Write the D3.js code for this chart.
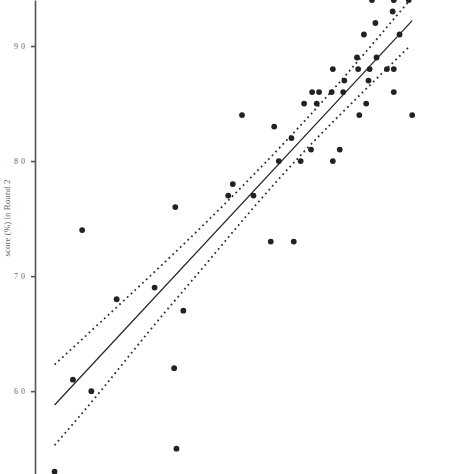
<!DOCTYPE html>
<head>
<meta charset="utf-8">
<script src="https://d3js.org/d3.v7.min.js"></script>
<style>
  body { margin: 0; background: #fff; }
  .yAxis text { font-family: "Liberation Serif", serif; font-size: 8px; fill: #666; letter-spacing: 3px; }
  .yAxis line, .yAxis path { stroke: #555; }
</style>
</head>
<body>
<div id="my_dataviz"></div>
<script>

// score in round 1 (x) and round 2 (y)
var round1 = [51.7, 53.3, 54.1, 54.9, 57.1, 60.4, 62.1, 62.2, 62.3, 62.9,
              66.8, 67.2, 68.0, 69.0, 70.5, 70.8, 71.2, 72.3, 72.5, 73.1,
              73.4, 74.0, 74.1, 74.5, 74.7, 75.8, 75.9, 75.9, 76.5, 76.8,
              76.9, 78.0, 78.1, 78.2, 78.6, 78.8, 79.0, 79.1, 79.3, 79.6,
              79.7, 80.6, 81.1, 81.2, 81.2, 81.2, 81.7, 82.5, 82.8]
var round2 = [53, 61, 74, 60, 68, 69, 62, 76, 55, 67,
              77, 78, 84, 77, 73, 83, 80, 82, 73, 80,
              85, 81, 86, 85, 86, 86, 88, 80, 81, 86,
              87, 89, 88, 84, 91, 85, 87, 88, 94, 92,
              89, 88, 93, 94, 88, 86, 91, 94, 84]

// fitted line and confidence band
var fitX = [51.7, 82.8]
var fitY = [58.8, 92.2]
var bandX = [51.7, 55.7, 60.0, 64.4, 68.7, 73.0, 77.4, 82.6]
var bandUpper = [62.3, 66.0, 70.0, 74.2, 78.5, 83.0, 87.9, 94.0]
var bandLower = [55.3, 60.0, 65.3, 70.5, 75.6, 80.4, 84.9, 90.0]

var yTicks = [60, 70, 80, 90]
var yTitle = "score (%) in Round 2"

var width = 474, height = 474

var svg = d3.select("#my_dataviz")
  .append("svg")
    .attr("width", width)
    .attr("height", height)

var x = d3.scaleLinear()
  .domain([50, 90])
  .range([35, 495])

var y = d3.scaleLinear()
  .domain([52.8, 94])
  .range([height, 0])

// Y axis
svg.append("g")
  .attr("class", "yAxis")
  .attr("transform", "translate(35,0)")
  .call(d3.axisLeft(y).tickValues(yTicks).tickSize(4).tickSizeOuter(0).tickPadding(3))
  .selectAll("path, line").attr("stroke-width", 1.6)

svg.append("text")
  .attr("transform", "translate(10," + 218 + ") rotate(-90)")
  .attr("text-anchor", "middle")
  .style("font-family", "Liberation Serif, serif")
  .style("font-size", "9px")
  .style("fill", "#666")
  .text(yTitle)

// confidence band (dotted)
var bandLine = function(vals) {
  return d3.line()
    .curve(d3.curveNatural)
    .x(function(d, i) { return x(bandX[i]) })
    .y(function(d) { return y(d) })(vals)
}
svg.selectAll("band")
  .data([bandUpper, bandLower])
  .enter()
  .append("path")
    .attr("d", bandLine)
    .attr("fill", "none")
    .attr("stroke", "#333")
    .attr("stroke-width", 1.8)
    .attr("stroke-dasharray", "1.8,3.4")

// regression line
svg.append("path")
  .datum(fitX)
  .attr("fill", "none")
  .attr("stroke", "#222")
  .attr("stroke-width", 1.2)
  .attr("d", d3.line()
    .x(function(d) { return x(d) })
    .y(function(d, i) { return y(fitY[i]) }))

// points
svg.selectAll("dots")
  .data(round1)
  .enter()
  .append("circle")
    .attr("cx", function(d) { return x(d) })
    .attr("cy", function(d, i) { return y(round2[i]) })
    .attr("r", 2.9)
    .attr("fill", "#222")

</script>
</body>
